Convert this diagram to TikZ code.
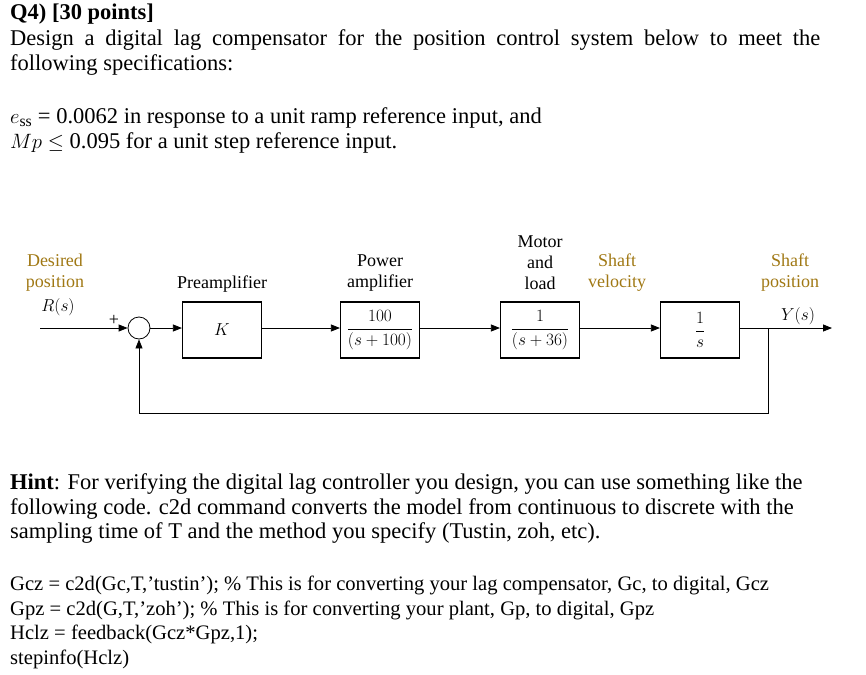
\documentclass[tikz,border=0pt]{standalone}
\usepackage{amsmath}
\usepackage{fontspec}
\setmainfont{Liberation Serif}
\usetikzlibrary{arrows.meta}
\definecolor{olive}{RGB}{160,120,20}
\begin{document}
\begin{tikzpicture}[x=1pt,y=-1pt,
  txt/.style={anchor=west,inner sep=0,font=\fontsize{22.5}{26}\selectfont},
  code/.style={txt,font=\fontsize{20.6}{24}\selectfont},
  lab/.style={align=center,inner sep=0,font=\fontsize{18}{21}\selectfont},
  olab/.style={lab,text=olive},
  blk/.style={draw,line width=1.2pt,minimum width=79pt,minimum height=56pt,inner sep=0,font=\fontsize{17}{19}\selectfont},
  arr/.style={-{Triangle[length=9pt,width=7pt]},line width=0.8pt}]
\useasboundingbox (0,0) rectangle (866,674);
\node[txt] (t0) at (10,14) {\textbf{Q4) [30 points]}};
\node[txt] (t1) at (10,40) {\makebox[810pt][s]{Design a digital lag compensator for the position control system below to meet the}};
\node[txt] (t2) at (10,65) {following specifications:};
\node[txt] (t3) at (10,118) {$e_{\mathrm{ss}}$ = 0.0062 in response to a unit ramp reference input, and};
\node[txt] (t4) at (10,143) {$Mp \le$ 0.095 for a unit step reference input.};
% diagram
\coordinate (in) at (40,328);
\node[draw,circle,minimum size=22pt,inner sep=0,line width=0.8pt] (sum) at (139,328) {};
\node[blk] (k) at (222,330) {$K$};
\node[blk] (pa) at (380,330) {$\dfrac{100}{(s+100)}$};
\node[blk] (ml) at (540,330) {$\dfrac{1}{(s+36)}$};
\node[blk] (in2) at (700,330) {$\dfrac{1}{s}$};
\coordinate (out) at (832,328);
\coordinate (br) at (768,328);
\coordinate (fb) at (768,413);
\draw[arr] (in) -- (sum);
\draw[arr] (sum) -- (k.west|-sum);
\draw[arr] (k.east|-sum) -- (pa.west|-sum);
\draw[arr] (pa.east|-sum) -- (ml.west|-sum);
\draw[arr] (ml.east|-sum) -- (in2.west|-sum);
\draw[arr] (in2.east|-sum) -- (out);
\draw[arr] (br) -- (fb) -| (sum.south);
\node[olab] (dp) at (55,273) {Desired\\position};
\node[lab] (r) at (58,307) {$R(s)$};
\node[lab] (plus) at (114,320) {+};
\node[lab] (pre) at (222,284) {Preamplifier};
\node[lab] (pal) at (380,273) {Power\\amplifier};
\node[lab] (mll) at (540,263) {Motor\\and\\load};
\node[olab] (sv) at (617,273) {Shaft\\velocity};
\node[olab] (sp) at (790,273) {Shaft\\position};
\node[lab] (y) at (798,316) {$Y(s)$};
% hint
\node[txt] (h1) at (10,484) {\textbf{Hint}: For verifying the digital lag controller you design, you can use something like the};
\node[txt] (h2) at (10,509) {following code. c2d command converts the model from continuous to discrete with the};
\node[txt] (h3) at (10,533) {sampling time of T and the method you specify (Tustin, zoh, etc).};
\node[code] (c1) at (10,585) {Gcz = c2d(Gc,T,'tustin'); \% This is for converting your lag compensator, Gc, to digital, Gcz};
\node[code] (c2) at (10,610) {Gpz = c2d(G,T,'zoh'); \% This is for converting your plant, Gp, to digital, Gpz};
\node[code] (c3) at (10,634) {Hclz = feedback(Gcz*Gpz,1);};
\node[code] (c4) at (10,659) {stepinfo(Hclz)};
\end{tikzpicture}
\end{document}
